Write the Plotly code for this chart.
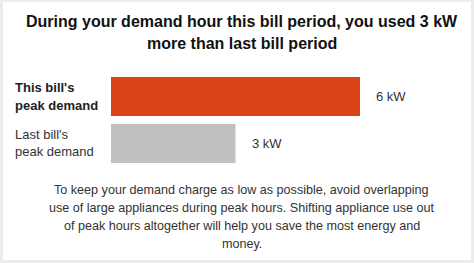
import plotly.graph_objects as go

categories = ["This bill's peak demand", "Last bill's peak demand"]
label_lines = [["This bill's", "peak demand"], ["Last bill's", "peak demand"]]
values = [6, 3]
value_labels = ["6 kW", "3 kW"]
bar_colors = ["#D94315", "#C0C0C0"]
title_lines = ["During your demand hour this bill period, you used 3 kW",
               "more than last bill period"]
note_lines = ["To keep your demand charge as low as possible, avoid overlapping",
              "use of large appliances during peak hours. Shifting appliance use out",
              "of peak hours altogether will help you save the most energy and",
              "money."]

FW, FH = 474, 263
L, T, W, H = 111, 73, 332, 94
R, B = FW - L - W, FH - T - H
FONT = "Liberation Sans, Arial, sans-serif"

def px(x):
    return (x - L) / W

def py(y):
    return (T + H - y) / H

fig = go.Figure(go.Bar(
    x=values, y=categories, orientation="h",
    marker=dict(color=bar_colors, line=dict(width=0)),
    hoverinfo="skip",
))

annotations = []

def text_at(txt, x, ycenter, size, color, anchor="center", bold=False):
    if bold:
        txt = "<b>" + txt + "</b>"
    annotations.append(dict(text=txt, xref="paper", yref="paper", x=px(x), y=py(ycenter),
                            xanchor=anchor, yanchor="middle", showarrow=False, borderpad=0,
                            font=dict(family=FONT, size=size, color=color)))

# title
for line, yc in zip(title_lines, [21.5, 43.5]):
    text_at(line, 241.5, yc, 16, "#111111", bold=True)

# category labels
label_centers = [[87.5, 105.5], [134.5, 151.5]]
for i, lines in enumerate(label_lines):
    for line, yc in zip(lines, label_centers[i]):
        text_at(line, 14, yc, 13, "#222222" if i == 0 else "#333333", anchor="left", bold=(i == 0))

# value labels
for i, v in enumerate(values):
    annotations.append(dict(text=value_labels[i], xref="x", yref="y", x=v, y=categories[i],
                            xanchor="left", yanchor="middle", xshift=15, showarrow=False,
                            borderpad=0, font=dict(family=FONT, size=13, color="#333333")))

# note
for line, yc in zip(note_lines, [189.5, 208, 226, 243.5]):
    text_at(line, 241.5, yc, 12.6, "#333333")

shapes = [dict(type="rect", xref="paper", yref="paper", x0=px(3), x1=px(471), y0=py(260), y1=py(2),
               fillcolor="white", line=dict(width=0), layer="below")]

fig.update_layout(
    width=FW, height=FH,
    margin=dict(l=L, r=R, t=T, b=B, pad=0),
    paper_bgcolor="#ECECEC", plot_bgcolor="rgba(0,0,0,0)",
    bargap=0.17, showlegend=False,
    xaxis=dict(range=[0, 8], visible=False, fixedrange=True),
    yaxis=dict(type="category", range=[1.5, -0.5], visible=False, fixedrange=True),
    annotations=annotations, shapes=shapes,
)

fig.write_html("out.html", config={"displayModeBar": False})
